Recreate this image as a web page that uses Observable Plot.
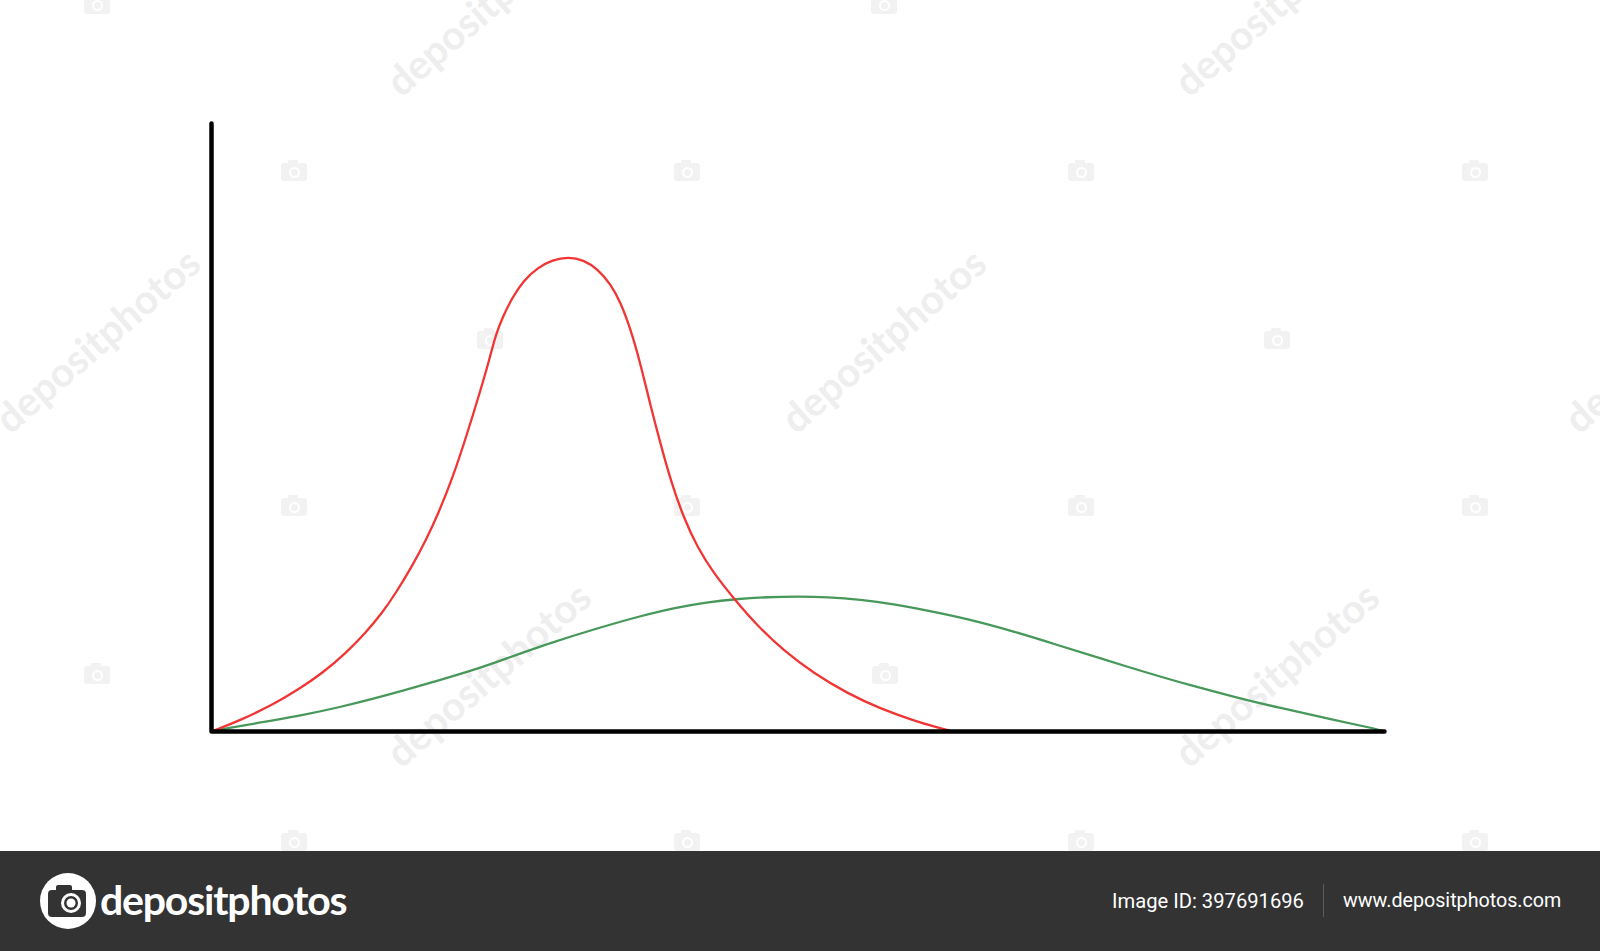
<!DOCTYPE html>
<html>
<head>
<meta charset="utf-8">
<script src="https://cdn.jsdelivr.net/npm/d3@7"></script>
<script src="https://cdn.jsdelivr.net/npm/@observablehq/plot@0.6"></script>
<style>
html,body{margin:0;padding:0;background:#fff;width:1600px;height:951px;overflow:hidden}
#root{position:relative;width:1600px;height:951px}
#chart{position:absolute;left:0;top:0;z-index:2}
#chart svg{display:block;background:transparent}
#marks{position:absolute;left:0;top:0;z-index:1;width:1600px;height:851px;overflow:hidden}
.wm{position:absolute;font:700 40px "Lato",sans-serif;letter-spacing:0;color:#eeeeee;transform:translate(-50%,-50%) rotate(-41deg);white-space:nowrap}
.cam{position:absolute;width:26px;height:18px;border-radius:3px;background:#f2f2f2;transform:translate(-50%,-50%)}
.cam:before{content:"";position:absolute;left:7px;top:-3px;width:10px;height:4px;border-radius:1px;background:#f2f2f2}
.cam:after{content:"";position:absolute;left:8px;top:4px;width:7px;height:7px;border:2px solid #fff;border-radius:50%}
#footer{position:absolute;left:0;top:851px;width:1600px;height:100px;background:#333;color:#fff;z-index:3}
#footer .logo{position:absolute;left:100px;top:24px;font:700 41px/50px "Lato",sans-serif;letter-spacing:-1.2px}
#footer .t{position:absolute;top:36.5px;font:400 20px/26px "Roboto",sans-serif;white-space:nowrap}
#footer .div{position:absolute;left:1323px;top:33px;width:1px;height:33px;background:#5c5c5c}
#badge{position:absolute;left:40px;top:22px}
</style>
</head>
<body>
<div id="root">
  <div id="marks"></div>
  <div id="chart"></div>
  <div id="footer">
    <svg id="badge" width="56" height="56" viewBox="0 0 56 56">
      <circle cx="28" cy="28" r="28" fill="#fff"/>
      <rect x="8" y="17" width="38" height="27" rx="4" fill="#333"/>
      <rect x="16" y="12" width="16" height="8" rx="2" fill="#333"/>
      <circle cx="31" cy="30" r="10" fill="#fff"/>
      <circle cx="31" cy="30" r="7" fill="#333"/>
      <circle cx="31" cy="30" r="4.5" fill="#fff"/>
    </svg>
    <div class="logo">depositphotos</div>
    <div class="t" id="imgId" style="left:1112px;font-size:20.2px"></div>
    <div class="div"></div>
    <div class="t" id="site" style="left:1343px;font-size:19.7px"></div>
  </div>
</div>
<script>
const redX = [0,27,61,87,111,134,154,171,184,201,214,227,241,254,269,279,284,291,301,312,326,341,357,372,386,399,409,419,429,439,449,459,472,486,502,524,546,572,602,636,669,702,728,741];
const redY = [0,10.5,26.5,42,58.5,78,98.6,119,138,166,190.4,218.4,253.4,292.4,341,376,396,414.3,434.3,451,463.7,471.7,474.5,471.7,462.7,447.7,429.3,402.7,367.7,326,287.7,251.7,214,184,158.4,130.9,105.6,80.9,58.4,38,22.8,10.9,3.5,0];
const greenX = [0,14,61,94,127,161,194,227,261,294,340,385,429,462,496,524,556,586,616,649,682,716,757,801,846,891,935,980,1025,1069,1114,1163,1173];
const greenY = [0,3,11,17,24,32.5,41.5,51,61,72.7,89,103,115.5,123.5,129.3,132.4,134.5,135,134.5,132,127.5,121,112.5,100.5,86.5,72.5,58.9,45.8,34,23.4,13.5,3,0];
const axisMaxX = 1173;
const axisMaxY = 608;
const footerLabels = ["Image ID: 397691696", "www.depositphotos.com"];

const red = redX.map((x,i)=>({x,y:redY[i]}));
const green = greenX.map((x,i)=>({x,y:greenY[i]}));

const chart = Plot.plot({
  width:1600, height:851,
  marginLeft:211, marginRight:216, marginTop:123, marginBottom:120,
  x:{domain:[0,axisMaxX], axis:null},
  y:{domain:[0,axisMaxY], axis:null},
  style:{background:"transparent"},
  marks:[
    Plot.line(green,{x:"x",y:"y",stroke:"#47985a",strokeWidth:2.3,curve:"basis"}),
    Plot.line(red,{x:"x",y:"y",stroke:"#f03535",strokeWidth:2.3,curve:"basis"}),
    Plot.line([{x:0,y:axisMaxY},{x:0,y:0},{x:axisMaxX,y:0}],{x:"x",y:"y",stroke:"#000",strokeWidth:4.5,strokeLinecap:"round",strokeLinejoin:"round"})
  ]
});
document.getElementById("chart").appendChild(chart);
document.getElementById("imgId").textContent = footerLabels[0];
document.getElementById("site").textContent = footerLabels[1];

// faint stock-photo overlay
const wmSpots = [[488,3],[1276,3],[97,340],[883,340],[1666,340],[488,674],[1276,674]];
const camSpots = [[97,5],[294,172],[687,172],[1081,172],[1475,172],[490,340],[1277,340],[294,507],[1081,507],[1475,507],[687,507],[97,675],[885,675],[294,842],[687,842],[1081,842],[1475,842],[884,5]];
const host = document.getElementById("marks");
for (const [l,t] of wmSpots){const d=document.createElement("div");d.className="wm";d.style.left=l+"px";d.style.top=t+"px";d.textContent="depositphotos";host.appendChild(d);}
for (const [l,t] of camSpots){const d=document.createElement("div");d.className="cam";d.style.left=l+"px";d.style.top=t+"px";host.appendChild(d);}
</script>
</body>
</html>
